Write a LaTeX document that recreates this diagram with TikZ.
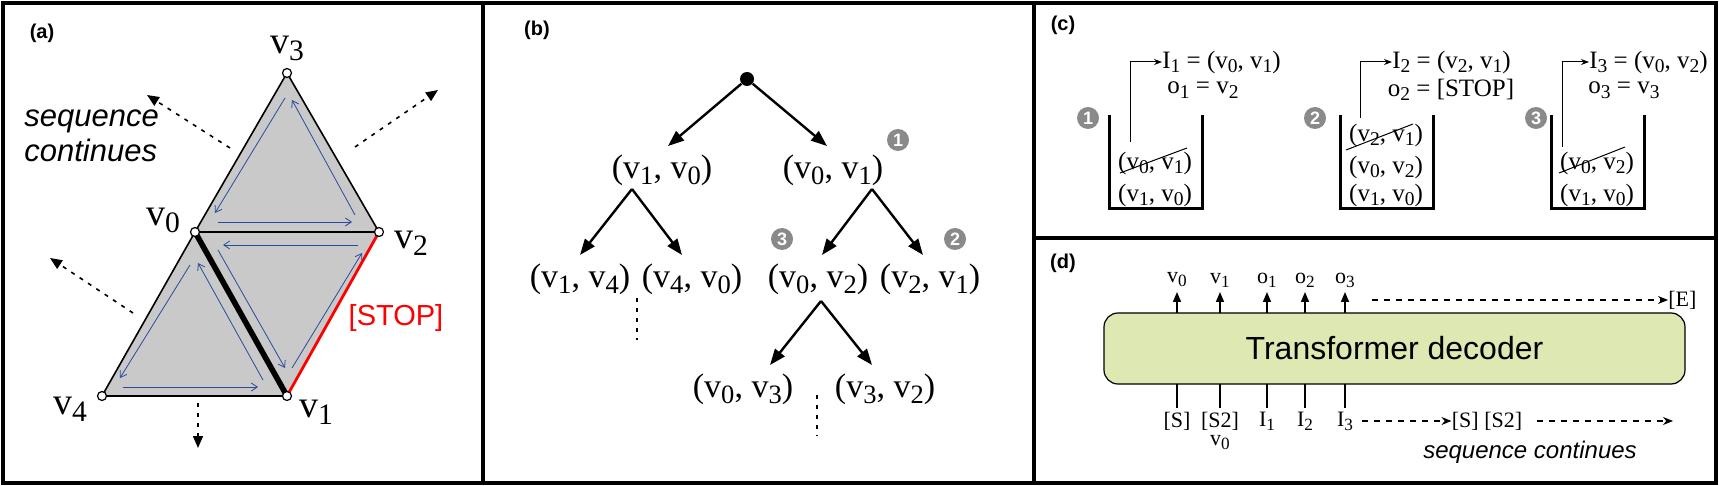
\documentclass[tikz,border=0pt]{standalone}
\usepackage{fontspec}
\setmainfont{Liberation Serif}
\setsansfont{Liberation Sans}
\usetikzlibrary{arrows.meta}
\newcommand\lo[1]{\raisebox{-0.4ex}{\scalebox{0.78}{#1}}}
\newcommand\vv[1]{v\lo{#1}}
\definecolor{trigray}{HTML}{C9C9C9}
\definecolor{tblue}{HTML}{2A4B9B}
\definecolor{numgray}{HTML}{8A8A8A}
\definecolor{decgreen}{HTML}{DDE8B2}
\begin{document}
\begin{tikzpicture}[x=0.5pt,y=-0.5pt,
  frame/.style={line width=1.6pt},
  plabel/.style={font=\sffamily\bfseries\fontsize{10}{12}\selectfont},
  vlab/.style={font=\fontsize{19}{21}\selectfont, inner sep=0pt},
  vtx/.style={circle,draw,fill=white,line width=0.6pt,minimum size=4.5pt,inner sep=0pt},
  barrow/.style={tblue,line width=0.4pt,-{Straight Barb[length=3pt,width=4pt]}},
  dotarrow/.style={line width=0.8pt,dash pattern=on 2pt off 3pt,-{Triangle[length=6pt,width=5pt]}},
  tnode/.style={font=\fontsize{17}{19}\selectfont, inner sep=1pt},
  tarrow/.style={line width=1.2pt,-{Triangle[length=8pt,width=6pt]}},
  num/.style={circle,fill=numgray,text=white,font=\sffamily\bfseries\fontsize{9}{9}\selectfont,inner sep=0pt,minimum size=11pt},
  ctext/.style={font=\fontsize{12.5}{14}\selectfont, inner sep=0pt},
  stack/.style={line width=1.5pt},
  carrow/.style={line width=0.5pt,-{Stealth[length=4pt,width=3pt]}},
  dtext/.style={font=\fontsize{11}{13}\selectfont, inner sep=0pt},
  uparrow/.style={line width=0.8pt,-{Triangle[length=5pt,width=4pt]}},
  dasharrow/.style={line width=0.6pt,dash pattern=on 3pt off 3pt,-{Stealth[length=5pt,width=4pt]}}
]
\useasboundingbox (0,0) rectangle (1719,486);
% frames
\draw[frame] (3,3) rectangle (1716,483);
\draw[frame] (483,3) -- (483,483);
\draw[frame] (1034,3) -- (1034,483);
\draw[frame] (1034,238) -- (1716,238);
\node[plabel] (la) at (42,33) {(a)};
\node[plabel] (lb) at (537,30) {(b)};
\node[plabel] (lc) at (1063,25) {(c)};
\node[plabel] (ld) at (1063,263) {(d)};

% ---------- panel (a)
\coordinate (v3) at (287,73);
\coordinate (v0) at (195,232);
\coordinate (v2) at (379,232);
\coordinate (v4) at (102,396);
\coordinate (v1) at (287,396);
\fill[trigray] (v0)--(v3)--(v2)--cycle;
\fill[trigray] (v0)--(v2)--(v1)--cycle;
\fill[trigray] (v4)--(v0)--(v1)--cycle;
\draw[line width=0.8pt] (v4)--(v0)--(v3)--(v2);
\draw[line width=0.8pt] (v4)--(v1);
\draw[line width=1.3pt] (v0)--(v2);
\draw[line width=2.8pt] (v0)--(v1);
\draw[red,line width=1.4pt] (v1)--(v2);
\draw[barrow] (218,222) -- (352,222);
\draw[barrow] (355,215) -- (292,100);
\draw[barrow] (285,98) -- (215,213);
\draw[barrow] (358,245) -- (223,245);
\draw[barrow] (218,250) -- (285,368);
\draw[barrow] (292,368) -- (362,253);
\draw[barrow] (123,387) -- (258,387);
\draw[barrow] (263,380) -- (198,263);
\draw[barrow] (190,265) -- (120,378);
\foreach \v in {v0,v1,v2,v3,v4} \node[vtx] (c\v) at (\v) {};
\node[vlab] (l3) at (287,48) {\vv{3}};
\node[vlab] (l0) at (163,220) {\vv{0}};
\node[vlab] (l2) at (411,243) {\vv{2}};
\node[vlab] (l4) at (70,409) {\vv{4}};
\node[vlab] (l1) at (316,412) {\vv{1}};
\node[red,font=\sffamily\fontsize{14.5}{16}\selectfont,inner sep=0pt] (stop) at (396,318) {[STOP]};
\node[font=\sffamily\itshape\fontsize{15.5}{17.5}\selectfont,align=left,anchor=west,inner sep=0pt] (seqa) at (24,136) {sequence\\continues};
\coordinate (d1s) at (230,148); \coordinate (d1e) at (147,95);
\coordinate (d2s) at (355,147); \coordinate (d2e) at (438,90);
\coordinate (d3s) at (133,313); \coordinate (d3e) at (50,258);
\coordinate (d4s) at (198,403); \coordinate (d4e) at (198,448);
\draw[dotarrow] (d1s) -- (d1e);
\draw[dotarrow] (d2s) -- (d2e);
\draw[dotarrow] (d3s) -- (d3e);
\draw[dotarrow] (d4s) -- (d4e);

% ---------- panel (b)
\node[circle,fill=black,inner sep=0pt,minimum size=7pt] (root) at (747,79) {};
\node[tnode] (n10) at (662,170) {(\vv1, \vv0)};
\node[tnode] (n01) at (833,170) {(\vv0, \vv1)};
\node[tnode] (n14) at (580,279) {(\vv1, \vv4)};
\node[tnode] (n40) at (692,279) {(\vv4, \vv0)};
\node[tnode] (n02) at (818,279) {(\vv0, \vv2)};
\node[tnode] (n21) at (930,279) {(\vv2, \vv1)};
\node[tnode] (n03) at (743,389) {(\vv0, \vv3)};
\node[tnode] (n32) at (885,389) {(\vv3, \vv2)};
\draw[tarrow] (root) -- (668,146);
\draw[tarrow] (root) -- (827,146);
\coordinate (b10) at (632,189); \coordinate (b01) at (872,189); \coordinate (b02) at (821,301);
\draw[tarrow] (b10) -- (580,255);
\draw[tarrow] (b10) -- (682,255);
\draw[tarrow] (b01) -- (822,255);
\draw[tarrow] (b01) -- (923,255);
\draw[tarrow] (b02) -- (770,365);
\draw[tarrow] (b02) -- (872,365);
\node[num] (bn1) at (898,140) {1};
\node[num] (bn3) at (782,239) {3};
\node[num] (bn2) at (955,239) {2};
\coordinate (vd1a) at (637,298); \coordinate (vd1b) at (637,340);
\coordinate (vd2a) at (817,395); \coordinate (vd2b) at (817,436);
\draw[line width=1pt,dash pattern=on 2pt off 3pt] (vd1a) -- (vd1b);
\draw[line width=1pt,dash pattern=on 2pt off 3pt] (vd2a) -- (vd2b);

% ---------- panel (c)
\foreach \x/\n in {1109/1,1340/2,1551/3}{
  \draw[stack] (\x,115) -- (\x,209) -- (\x+93,209) -- (\x+93,115);
}
\node[num] (cn1) at (1088,118) {1};
\node[num] (cn2) at (1315,118) {2};
\node[num] (cn3) at (1536,118) {3};
% stack 1
\node[ctext] (s1a) at (1155,163) {(\vv0, \vv1)};
\node[ctext] (s1b) at (1155,195) {(\vv1, \vv0)};
\draw[line width=0.5pt] (1120,173) -- (1187,148);
\coordinate (a1s) at (1130,142); \coordinate (a1c) at (1130,62);
\node[ctext,anchor=west] (i1) at (1162,62) {I\lo1 = (\vv0, \vv1)};
\node[ctext] (o1) at (1203,90) {o\lo1 = \vv2};
\draw[carrow] (a1s) -- (a1c) -- (i1.west);
% stack 2
\node[ctext] (s2a) at (1386,135) {(\vv2, \vv1)};
\node[ctext] (s2b) at (1386,167) {(\vv0, \vv2)};
\node[ctext] (s2c) at (1386,195) {(\vv1, \vv0)};
\draw[line width=0.5pt] (1346,150) -- (1413,124);
\coordinate (a2s) at (1360,118); \coordinate (a2c) at (1360,62);
\node[ctext,anchor=west] (i2) at (1392,62) {I\lo2 = (\vv2, \vv1)};
\node[ctext] (o2) at (1451,90) {o\lo2 = [STOP]};
\draw[carrow] (a2s) -- (a2c) -- (i2.west);
% stack 3
\node[ctext] (s3a) at (1597,163) {(\vv0, \vv2)};
\node[ctext] (s3b) at (1597,195) {(\vv1, \vv0)};
\draw[line width=0.5pt] (1559,173) -- (1625,147);
\coordinate (a3s) at (1562,147); \coordinate (a3c) at (1562,62);
\node[ctext,anchor=west] (i3) at (1589,62) {I\lo3 = (\vv0, \vv2)};
\node[ctext] (o3) at (1624,90) {o\lo3 = \vv3};
\draw[carrow] (a3s) -- (a3c) -- (i3.west);

% ---------- panel (d)
\node[draw,fill=decgreen,rounded corners=7pt,line width=0.6pt,minimum width=581pt*0.5,minimum height=71pt*0.5,
      font=\sffamily\fontsize{16}{18}\selectfont] (dec) at (1394.5,348.5) {Transformer decoder};
\foreach \x/\o/\i/\k in {1177/\vv0/{[S]}/1,1220/\vv1/{[S2]}/2,1267/o\lo1/I\lo1/3,1305/o\lo2/I\lo2/4,1345/o\lo3/I\lo3/5}{
  \node[dtext] (out\k) at (\x,280) {\o};
  \node[dtext] (in\k) at (\x,421) {\i};
  \draw[uparrow] (\x,313) -- (\x,292);
  \draw[line width=0.6pt] (\x,384) -- (\x,408);
}
\node[dtext] (inv0) at (1220,443) {\vv0};
\node[dtext,anchor=west] (E) at (1668,300) {[E]};
\draw[dasharrow] (1372,300) -- (E.west);
\node[dtext] (SS2) at (1487,421) {[S] [S2]};
\coordinate (dend) at (1673,421);
\draw[dasharrow] (1362,421) -- (SS2.west);
\draw[dasharrow] (1537,421) -- (dend);
\node[font=\sffamily\itshape\fontsize{12}{14}\selectfont,inner sep=0pt] (seqd) at (1530,452) {sequence continues};
\end{tikzpicture}
\end{document}
